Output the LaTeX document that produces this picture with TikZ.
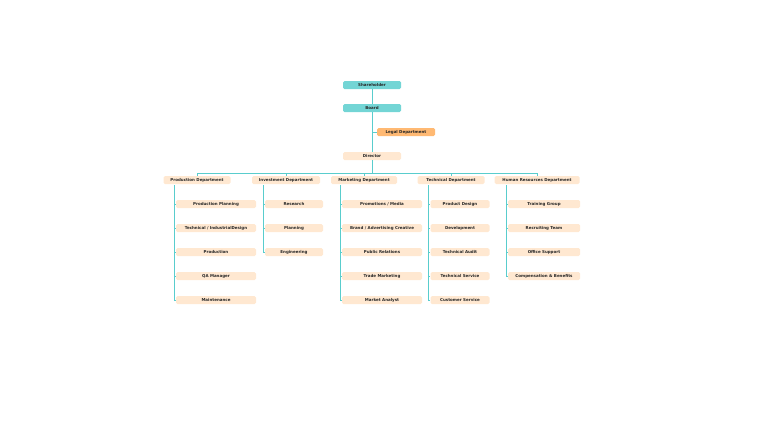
\documentclass[tikz,border=0pt]{standalone}
\usepackage{fontspec}
\setmainfont{DejaVu Sans}
\begin{document}
\begin{tikzpicture}[x=1pt,y=-1pt,
  box/.style={rounded corners=1.5pt,minimum height=8pt,inner sep=0.5pt,font=\fontsize{4}{4.5}\selectfont\bfseries,text=black!85},
  top/.style={box,fill=teal!60!cyan!55,minimum width=58pt},
  legal/.style={box,fill=orange!55,minimum width=58pt},
  peach/.style={box,fill=orange!18},
  ln/.style={draw=teal!60!cyan!65,line width=0.6pt}]
\useasboundingbox (0,0) rectangle (768,432);
\node[top] (sh) at (372,85) {Shareholder};
\node[top] (bd) at (372,108) {Board};
\node[legal] (lg) at (406,132) {Legal Department};
\node[peach,minimum width=58pt] (dr) at (372,156) {Director};
\draw[ln] (sh) -- (bd);
\draw[ln] (bd) -- (dr);
\draw[ln] (372,132) -- (lg.west);
\foreach \n/\x/\w/\t in {pd/197/67/Production Department, id/286/68/Investment Department, md/364/66/Marketing Department, td/451/67/Technical Department, hd/537/85/Human Resources Department}{
  \node[peach,minimum width=\w pt] (\n) at (\x,180) {\t};
  \draw[ln] (dr.south) |- (\x,173) -- (\n.north);
}
\draw[ln] (197,173) -- (537,173);
\foreach \d/\lx/\cx/\w/\list in {
  pd/174/216/80/{Production Planning,Technical / IndustrialDesign,Production,QA Manager,Maintenance},
  id/263/294/58/{Research,Planning,Engineering},
  md/340/382/80/{Promotions / Media,Brand / Advertising Creative,Public Relations,Trade Marketing,Market Analyst},
  td/428/460/59/{Product Design,Development,Technical Audit,Technical Service,Customer Service},
  hd/506/544/72/{Training Group,Recruiting Team,Office Support,Compensation \& Benefits}}{
  \foreach \t [count=\i] in \list {
    \node[peach,minimum width=\w pt] (\d c\i) at (\cx,180+24*\i) {\t};
    \draw[ln] (\lx,185) |- (\d c\i.west);
  }
}
\end{tikzpicture}
\end{document}
